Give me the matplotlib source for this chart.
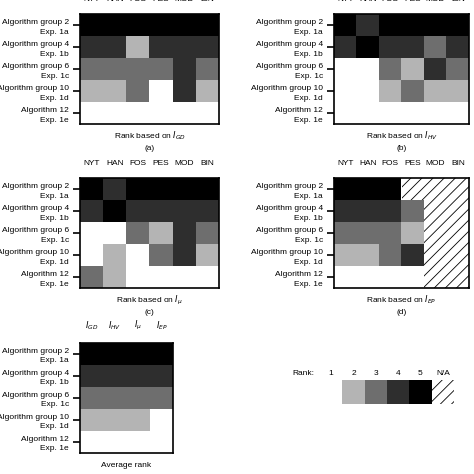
import matplotlib.pyplot as plt
import numpy as np
from matplotlib.colors import ListedColormap
from matplotlib.patches import Rectangle

plt.rcParams['font.family'] = ['Liberation Sans', 'DejaVu Sans']
plt.rcParams['hatch.linewidth'] = 0.6

row_labels = ['Algorithm group 2\nExp. 1a', 'Algorithm group 4\nExp. 1b',
              'Algorithm group 6\nExp. 1c', 'Algorithm group 10\nExp. 1d',
              'Algorithm 12\nExp. 1e']
algos = ['NYT', 'HAN', 'FOS', 'PES', 'MOD', 'BIN']
indicators = ['$I_{GD}$', '$I_{HV}$', '$I_{\\mu}$', '$I_{EP}$']

rank_gd = [[5, 5, 5, 5, 5, 5],
           [4, 4, 2, 4, 4, 4],
           [3, 3, 3, 3, 4, 3],
           [2, 2, 3, 1, 4, 2],
           [1, 1, 1, 1, 1, 1]]
rank_hv = [[5, 4, 5, 5, 5, 5],
           [4, 5, 4, 4, 3, 4],
           [1, 1, 3, 2, 4, 3],
           [1, 1, 2, 3, 2, 2],
           [1, 1, 1, 1, 1, 1]]
rank_mu = [[5, 4, 5, 5, 5, 5],
           [4, 5, 4, 4, 4, 4],
           [1, 1, 3, 2, 4, 3],
           [1, 2, 1, 3, 4, 2],
           [3, 2, 1, 1, 1, 1]]
# 0 = N/A
rank_ep = [[5, 5, 5, 0, 0, 0],
           [4, 4, 4, 3, 0, 0],
           [3, 3, 3, 2, 0, 0],
           [2, 2, 3, 4, 0, 0],
           [1, 1, 1, 1, 0, 0]]
rank_avg = [[5, 5, 5, 5],
            [4, 4, 4, 4],
            [3, 3, 3, 3],
            [2, 2, 2, 1],
            [1, 1, 1, 1]]
legend_ranks = [1, 2, 3, 4, 5]

cmap = ListedColormap(['white', 'white', '#b4b4b4', '#6e6e6e', '#2e2e2e', '#000000'])

fig = plt.figure(figsize=(4.74, 4.74), dpi=100)
W = H = 474.0


def px_axes(x0, y0, x1, y1):
    return fig.add_axes([x0 / W, 1 - y1 / H, (x1 - x0) / W, (y1 - y0) / H])


def heat(ax, data, cols, xlabel, tag):
    data = np.array(data)
    ax.imshow(data, cmap=cmap, vmin=0, vmax=5, aspect='auto', interpolation='nearest')
    for i in range(data.shape[0]):
        for j in range(data.shape[1]):
            if data[i, j] == 0:
                ax.add_patch(Rectangle((j - 0.5, i - 0.5), 1, 1, facecolor='none',
                                       edgecolor='black', hatch='///', lw=0))
    ax.set_xticks(range(len(cols)))
    ax.set_xticklabels(cols, fontsize=6)
    ax.xaxis.tick_top()
    ax.tick_params(axis='x', length=0, pad=8)
    ax.set_yticks(range(5))
    ax.set_yticklabels(row_labels, fontsize=6, ha='right', linespacing=1.5)
    ax.tick_params(axis='y', length=5, width=1.2, pad=3)
    for s in ax.spines.values():
        s.set_linewidth(1.2)
    ax.text(0.5, -0.11, xlabel, transform=ax.transAxes, ha='center', va='center', fontsize=6)
    ax.text(0.5, -0.22, tag, transform=ax.transAxes, ha='center', va='center', fontsize=6)


heat(px_axes(80, 14, 219, 124), rank_gd, algos, 'Rank based on $I_{GD}$', '(a)')
heat(px_axes(334, 14, 469, 124), rank_hv, algos, 'Rank based on $I_{HV}$', '(b)')
heat(px_axes(80, 178, 219, 288), rank_mu, algos, 'Rank based on $I_{\\mu}$', '(c)')
heat(px_axes(334, 178, 469, 288), rank_ep, algos, 'Rank based on $I_{EP}$', '(d)')
heat(px_axes(80, 343, 173, 453), rank_avg, indicators, 'Average rank', '(e)')

# legend
lax = px_axes(320, 372, 454, 404)
lax.set_xlim(0, 6)
lax.set_ylim(0, 1)
lax.axis('off')
for k, r in enumerate(legend_ranks):
    lax.add_patch(Rectangle((k, 0), 1, 0.75, facecolor=cmap(r / 5), edgecolor='none'))
    lax.text(k + 0.5, 0.95, str(r), ha='center', va='center', fontsize=6)
lax.add_patch(Rectangle((5, 0), 1, 0.75, facecolor='none', edgecolor='black', hatch='///', lw=0))
lax.text(5.5, 0.95, 'N/A', ha='center', va='center', fontsize=6)
lax.text(-0.25, 0.95, 'Rank:', ha='right', va='center', fontsize=6)

fig.savefig('out.png', dpi=100)
